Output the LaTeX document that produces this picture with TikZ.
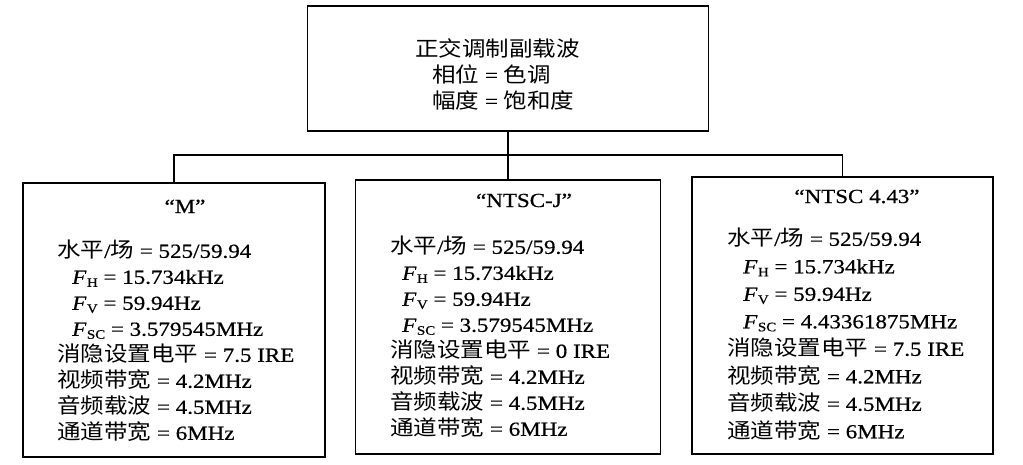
\documentclass[tikz,border=0pt]{standalone}
\usepackage{fontspec}
\setmainfont{Liberation Serif}[FakeStretch=1.15, FakeBold=0.6]
\newfontfamily\cjk{Noto Sans CJK SC}[FakeStretch=1.12, Scale=1.05]
\usetikzlibrary{positioning}
\newcommand{\zh}[1]{{\cjk #1}}
\newcommand{\fsub}[1]{\textit{F}\kern0.5pt\raisebox{-3pt}{\fontsize{13}{13}\selectfont #1}}
\tikzset{
  panel/.style={draw, line width=1.4pt, inner sep=0pt},
  title/.style={anchor=base, inner sep=0pt, font=\fontsize{20}{24}\selectfont},
  spec/.style={anchor=north west, inner sep=0pt, align=left, font=\fontsize{20}{26}\selectfont},
  link/.style={line width=1.4pt},
}
\begin{document}
\begin{tikzpicture}[x=1pt, y=-1pt]
\useasboundingbox (0,0) rectangle (1023,464);

% Carrier box on top
\node[panel, minimum width=401pt, minimum height=125pt] (carrier) at (508,68.5) {};
\node[spec] (carriertext) at (415,38) {\zh{正交调制副载波}\\
  \hspace*{17pt}\zh{相位} = \zh{色调}\\
  \hspace*{17pt}\zh{幅度} = \zh{饱和度}};

% Standard boxes
\node[panel, minimum width=302pt, minimum height=274pt] (m) at (174,320) {};
\node[panel, minimum width=305pt, minimum height=274pt] (ntscj) at (508,317) {};
\node[panel, minimum width=301pt, minimum height=277pt] (ntsc443) at (842.5,315.5) {};

% Tree lines
\coordinate (bus) at (508,155);
\draw[link] (carrier.south) -- (ntscj.north);
\draw[link] (m.north) |- (bus) -| (ntsc443.north);

% "M"
\node[title] (mtitle) at (185,213) {“M”};
\node[spec] (mspec) at (57,240) {\zh{水平}/\zh{场} = 525/59.94\\
  \hspace*{15pt}\fsub{H} = 15.734kHz\\
  \hspace*{15pt}\fsub{V} = 59.94Hz\\
  \hspace*{15pt}\fsub{SC} = 3.579545MHz\\
  \zh{消隐设置电平} = 7.5 IRE\\
  \zh{视频带宽} = 4.2MHz\\
  \zh{音频载波} = 4.5MHz\\
  \zh{通道带宽} = 6MHz};

% "NTSC-J"
\node[title] (jtitle) at (524,207) {“NTSC-J”};
\node[spec] (jspec) at (390,236) {\zh{水平}/\zh{场} = 525/59.94\\
  \hspace*{12pt}\fsub{H} = 15.734kHz\\
  \hspace*{12pt}\fsub{V} = 59.94Hz\\
  \hspace*{12pt}\fsub{SC} = 3.579545MHz\\
  \zh{消隐设置电平} = 0 IRE\\
  \zh{视频带宽} = 4.2MHz\\
  \zh{音频载波} = 4.5MHz\\
  \zh{通道带宽} = 6MHz};

% "NTSC 4.43"
\node[title] (t443) at (857,203) {“NTSC 4.43”};
\node[spec, font=\fontsize{20}{27.5}\selectfont] (t443spec) at (727,228) {\zh{水平}/\zh{场} = 525/59.94\\
  \hspace*{16pt}\fsub{H} = 15.734kHz\\
  \hspace*{16pt}\fsub{V} = 59.94Hz\\
  \hspace*{16pt}\fsub{SC} = 4.43361875MHz\\
  \zh{消隐设置电平} = 7.5 IRE\\
  \zh{视频带宽} = 4.2MHz\\
  \zh{音频载波} = 4.5MHz\\
  \zh{通道带宽} = 6MHz};

\end{tikzpicture}
\end{document}
